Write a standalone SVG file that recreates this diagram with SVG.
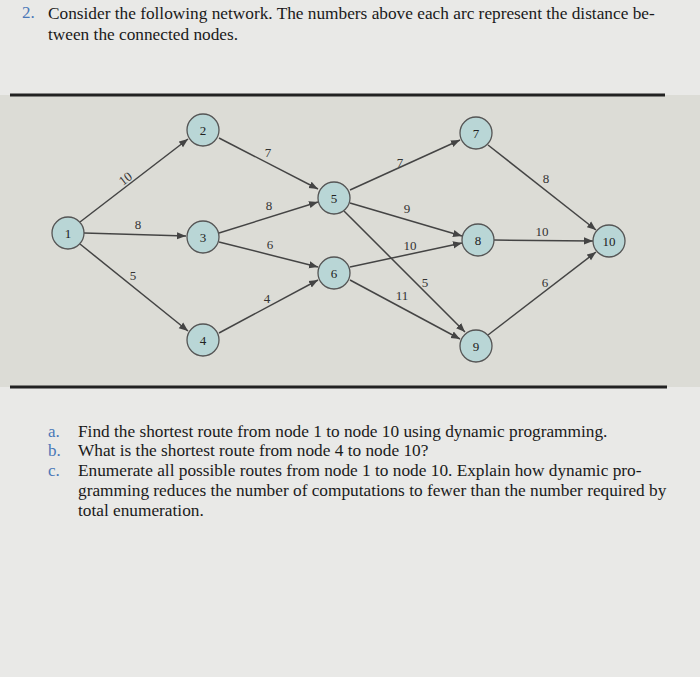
<svg xmlns="http://www.w3.org/2000/svg" width="700" height="677" viewBox="0 0 700 677">
<defs>
<marker id="ah" viewBox="0 0 10 10" refX="10" refY="5" markerWidth="9" markerHeight="9" markerUnits="userSpaceOnUse" orient="auto"><path d="M0,1 L10,5 L0,9 z" fill="#444"/></marker>
</defs>
<style>
.t{font-family:"Liberation Serif",serif;font-size:17.3px;fill:#1a1a1a}
.n circle{fill:#b9d6d6;stroke:#555;stroke-width:1.3}
.n text{font-family:"Liberation Serif",serif;font-size:13px;fill:#222;text-anchor:middle}
.e line{stroke:#444;stroke-width:1.5;marker-end:url(#ah)}
.w{font-family:"Liberation Serif",serif;font-size:13px;fill:#333;text-anchor:middle}
.lab{font-family:"Liberation Serif",serif;font-size:17px;fill:#4a78b8}
</style>
<rect width="700" height="677" fill="#e9e9e7"/>
<rect x="0" y="95" width="700" height="292" fill="#dcdcd6"/>
<text class="lab" x="22" y="18">2.</text>
<text class="t" x="48" y="19">Consider the following network. The numbers above each arc represent the distance be-</text>
<text class="t" x="48" y="40">tween the connected nodes.</text>
<line x1="10" y1="95" x2="665" y2="95" stroke="#222" stroke-width="3"/>
<line x1="10" y1="387" x2="667" y2="387" stroke="#222" stroke-width="3"/>
<g class="e">
<line x1="80" y1="222" x2="188" y2="139"/>
<line x1="84" y1="233" x2="186" y2="236"/>
<line x1="80" y1="244" x2="188" y2="331"/>
<line x1="219" y1="138" x2="318" y2="189"/>
<line x1="219" y1="233" x2="318" y2="202"/>
<line x1="219" y1="242" x2="318" y2="267"/>
<line x1="219" y1="333" x2="318" y2="280"/>
<line x1="350" y1="190" x2="460" y2="140"/>
<line x1="350" y1="203" x2="462" y2="236"/>
<line x1="344" y1="211" x2="465" y2="332"/>
<line x1="350" y1="267" x2="462" y2="243"/>
<line x1="350" y1="280" x2="460" y2="339"/>
<line x1="488" y1="145" x2="596" y2="230"/>
<line x1="494" y1="240" x2="593" y2="241"/>
<line x1="488" y1="335" x2="596" y2="252"/>
</g>
<g>
<text class="w" x="128" y="182" transform="rotate(-38 128 182)">10</text>
<text class="w" x="138" y="229">8</text>
<text class="w" x="133" y="280">5</text>
<text class="w" x="268" y="157">7</text>
<text class="w" x="269" y="210">8</text>
<text class="w" x="270" y="249">6</text>
<text class="w" x="267" y="303">4</text>
<text class="w" x="400" y="167">7</text>
<text class="w" x="407" y="213">9</text>
<text class="w" x="410" y="250">10</text>
<text class="w" x="425" y="287">5</text>
<text class="w" x="402" y="300">11</text>
<text class="w" x="546" y="183">8</text>
<text class="w" x="542" y="236">10</text>
<text class="w" x="545" y="287">6</text>
</g>
<g id="node1" class="n"><circle cx="68" cy="233" r="16"/><text x="68" y="238">1</text></g>
<g id="node2" class="n"><circle cx="203" cy="130" r="16"/><text x="203" y="135">2</text></g>
<g id="node3" class="n"><circle cx="203" cy="237" r="16"/><text x="203" y="242">3</text></g>
<g id="node4" class="n"><circle cx="203" cy="340" r="16"/><text x="203" y="345">4</text></g>
<g id="node5" class="n"><circle cx="334" cy="198" r="16"/><text x="334" y="203">5</text></g>
<g id="node6" class="n"><circle cx="334" cy="273" r="16"/><text x="334" y="278">6</text></g>
<g id="node7" class="n"><circle cx="476" cy="133" r="16"/><text x="476" y="138">7</text></g>
<g id="node8" class="n"><circle cx="478" cy="240" r="16"/><text x="478" y="245">8</text></g>
<g id="node9" class="n"><circle cx="476" cy="346" r="16"/><text x="476" y="351">9</text></g>
<g id="node10" class="n"><circle cx="609" cy="241" r="16"/><text x="609" y="246">10</text></g>
<text class="lab" x="48" y="437">a.</text>
<text class="t" x="78" y="437">Find the shortest route from node 1 to node 10 using dynamic programming.</text>
<text class="lab" x="48" y="456">b.</text>
<text class="t" x="78" y="456">What is the shortest route from node 4 to node 10?</text>
<text class="lab" x="48" y="476">c.</text>
<text class="t" x="78" y="476">Enumerate all possible routes from node 1 to node 10. Explain how dynamic pro-</text>
<text class="t" x="78" y="496">gramming reduces the number of computations to fewer than the number required by</text>
<text class="t" x="78" y="516">total enumeration.</text>
</svg>
